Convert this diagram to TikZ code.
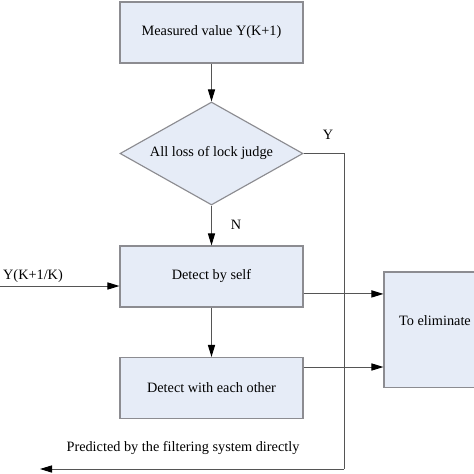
\documentclass[tikz,border=0pt]{standalone}
\usepackage{fontspec}
\setmainfont{Liberation Serif}
\usetikzlibrary{shapes.geometric,arrows.meta}
\definecolor{boxfill}{RGB}{230,236,247}
\definecolor{boxline}{RGB}{140,140,145}
\definecolor{flowgray}{RGB}{85,85,85}

\begin{document}
\begin{tikzpicture}[x=0.7pt,y=-0.7pt,
	blockbox/.style={draw=boxline,fill=boxfill,line width=0.8pt,minimum width=128.1pt,minimum height=42.7pt,inner sep=0pt},
	judgebox/.style={diamond,draw=boxline,fill=boxfill,line width=0.8pt,minimum width=128.1pt,minimum height=72.1pt,aspect=1.78,inner sep=0pt},
	arr/.style={draw=flowgray,line width=0.7pt,-{Triangle[length=8.4pt,width=5pt,fill=black,color=black]}},
	flowline/.style={draw=flowgray,line width=0.7pt}]
	\useasboundingbox (0,0) rectangle (474,474);
	\node[blockbox] (meas) at (211.5,32.5) {Measured value Y(K+1)};
	\node[judgebox] (judge) at (211.5,153.5) {All loss of lock judge};
	\node[blockbox] (self) at (211.5,276.5) {Detect by self};
	\node[blockbox] (other) at (211.5,388) {Detect with each other};
	\node[blockbox,minimum width=71.4pt,minimum height=80.9pt,text height=7pt,text depth=13.6pt] (elim) at (435,329.75) {To eliminate};
	\coordinate (input) at (0,286);
	\coordinate (yturn) at (344,469);
	\coordinate (pred) at (40,469);
	\node (ylabel) at (328,135) {Y};
	\node (nlabel) at (236,225) {N};
	\node (inlabel) at (33,276) {Y(K+1/K)};
	\node (predlabel) at (183,448) {Predicted by the filtering system directly};
	\draw[arr] (meas) -- (judge);
	\draw[arr] (judge) -- (self);
	\draw[arr] (self) -- (other);
	\draw[arr] (input) -- (input -| self.west);
	\draw[arr] ([yshift=-12.2pt]self.east) -- ([yshift=-12.2pt]self.east -| elim.west);
	\draw[arr] ([yshift=14.7pt]other.east) -- ([yshift=14.7pt]other.east -| elim.west);
	\draw[flowline] (judge.east) -| (yturn);
	\draw[arr] (yturn) -- (pred);
\end{tikzpicture}
\end{document}
